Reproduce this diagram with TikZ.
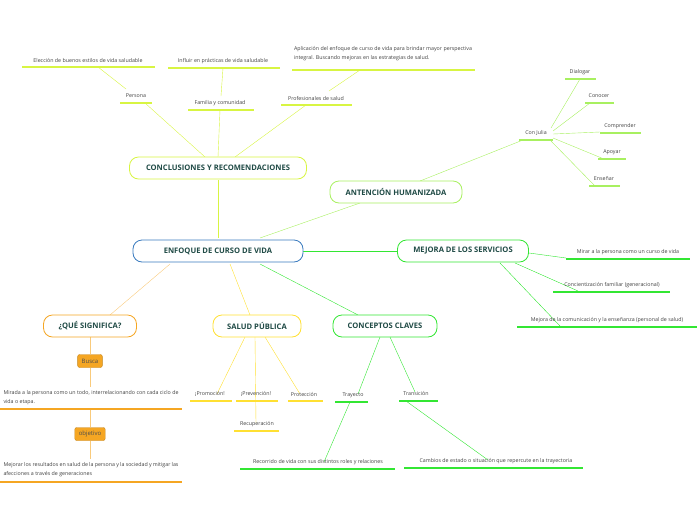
\documentclass[tikz,border=0pt]{standalone}
\usepackage{fontspec}
\setmainfont{Open Sans}
\definecolor{cyg}{HTML}{D8F542}
\definecolor{clg}{HTML}{A8F060}
\definecolor{cgr}{HTML}{33E633}
\definecolor{cor}{HTML}{F5A623}
\definecolor{cye}{HTML}{FFE033}
\definecolor{cbl}{HTML}{3A7BBF}
\definecolor{ctx}{HTML}{1F4A45}
\newcommand{\lf}[8]{\node[leaf] (#1) at (#2,#3) {#8};\draw[#7,line width=1.3pt] (#4,#6) -- (#5,#6);}
\begin{document}
\begin{tikzpicture}[x=1pt,y=-1pt,
 main/.style={draw,rounded corners=9pt,line width=0.8pt,fill=white,text=ctx,font=\bfseries\fontsize{7.6}{8}\selectfont,minimum height=22pt,inner xsep=10pt},
 leaf/.style={font=\fontsize{5.3}{9}\selectfont,text=black!75,inner sep=1pt},
 tag/.style={fill=cor,draw=cor!80!black,rounded corners=2pt,font=\fontsize{6}{6}\selectfont,text=black!70,minimum height=13pt,inner xsep=4pt},
 con/.style={line width=0.4pt}]
\useasboundingbox (0,0) rectangle (697,520);
\draw[con,cyg] (218,238) -- (218,180);
\draw[con,clg] (260,238) -- (360,203);
\draw[con,cgr] (303,251) -- (398,251);
\draw[con,cor!60] (170,264) -- (110,315);
\draw[con,cye] (230,264) -- (250,315);
\draw[con,cgr] (260,264) -- (358,315);
\draw[con,cyg] (205,157) -- (145,103) (218,157) -- (220,110) (235,157) -- (306,105);
\draw[con,cyg] (126,89) -- (98,67) (221,96) -- (223,68) (329,91) -- (360,70);
\draw[con,clg] (420,181) -- (523,140);
\draw[con,clg] (551,128) -- (580,79) (553,131) -- (590,103) (553,134) -- (600,132) (553,138) -- (604,159) (551,141) -- (595,186);
\draw[con,cgr] (529,253) -- (566,258) (515,263) -- (578,291) (500,263) -- (560,326);
\draw[con,cor!60] (90,337) -- (90,354) (90,368) -- (90,387) (90,409) -- (90,427) (90,441) -- (90,459);
\draw[con,cye] (245,337) -- (217,394) (255,337) -- (256,423) (265,337) -- (300,394);
\draw[con,cgr] (380,337) -- (358,394) (390,337) -- (415,392);
\draw[con,cgr] (350,402) -- (324,462) (406,401) -- (488,460);
\node[main,draw=cbl,minimum width=170pt] (enf) at (218,251) {ENFOQUE DE CURSO DE VIDA};
\node[main,draw=cyg,minimum width=177pt] (con) at (218,168) {CONCLUSIONES Y RECOMENDACIONES};
\node[main,draw=clg,minimum width=132pt] (ant) at (396,192) {ANTENCIÓN HUMANIZADA};
\node[main,draw=cgr,minimum width=131pt] (mej) at (463,251) {MEJORA DE LOS SERVICIOS};
\node[main,draw=cor,minimum width=93pt] (que) at (90,326) {¿QUÉ SIGNIFICA?};
\node[main,draw=cye,minimum width=88pt] (sal) at (257,326) {SALUD PÚBLICA};
\node[main,draw=cgr,minimum width=104pt] (cc) at (385,326) {CONCEPTOS CLAVES};
\lf{el}{88}{60}{22}{155}{67}{cyg}{Elección de buenos estilos de vida saludable}
\lf{inf}{223}{61}{168}{280}{68}{cyg}{Influir en prácticas de vida saludable}
\lf{apl}{383}{54}{292}{475}{70}{cyg}{\parbox{178pt}{Aplicación del enfoque de curso de vida para brindar mayor perspectiva integral. Buscando mejoras en las estrategias de salud.}}
\lf{per}{136}{96}{120}{152}{103}{cyg}{Persona}
\lf{fam}{220}{103}{188}{254}{110}{cyg}{Familia y comunidad}
\lf{pro}{316}{98}{281}{352}{105}{cyg}{Profesionales de salud}
\lf{jul}{536}{133}{519}{553}{140}{clg}{Con Julia}
\lf{dia}{580}{72}{565}{596}{79}{clg}{Dialogar}
\lf{cno}{599}{96}{585}{614}{103}{clg}{Conocer}
\lf{com}{620}{126}{600}{641}{133}{clg}{Comprender}
\lf{apo}{612}{152}{598}{626}{159}{clg}{Apoyar}
\lf{ens}{604}{179}{589}{620}{186}{clg}{Enseñar}
\lf{mir}{628}{252}{566}{690}{259}{cgr}{Mirar a la persona como un curso de vida}
\lf{cfa}{612}{285}{553}{670}{292}{cgr}{Concientización familiar (generacional)}
\lf{mco}{607}{320}{517}{697}{327}{cgr}{Mejora de la comunicación y la enseñanza (personal de salud)}
\node[tag] (bus) at (90,361) {Busca};
\node[tag] (obj) at (90,434) {objetivo};
\lf{mra}{91}{398}{0}{182}{409}{cor}{\parbox{175pt}{Mirada a la persona como un todo, interrelacionando con cada ciclo de vida o etapa.}}
\lf{mjr}{91}{470}{0}{182}{482}{cor}{\parbox{175pt}{Mejorar los resultados en salud de la persona y la sociedad y mitigar las afecciones a través de generaciones}}
\lf{prm}{210}{394}{190}{232}{401}{cye}{¡Promoción!}
\lf{prv}{256}{394}{236}{278}{401}{cye}{¡Prevención!}
\lf{prt}{304}{394}{288}{323}{401}{cye}{Protección}
\lf{rec}{257}{424}{234}{279}{431}{cye}{Recuperación}
\lf{tra}{353}{395}{335}{368}{402}{cgr}{Trayecto}
\lf{trn}{416}{393}{399}{438}{401}{cgr}{Transición}
\lf{rcv}{318}{462}{240}{395}{469}{cgr}{Recorrido de vida con sus distintos roles y relaciones}
\lf{cam}{496}{461}{404}{583}{468}{cgr}{Cambios de estado o situación que repercute en la trayectoria}
\end{tikzpicture}
\end{document}
